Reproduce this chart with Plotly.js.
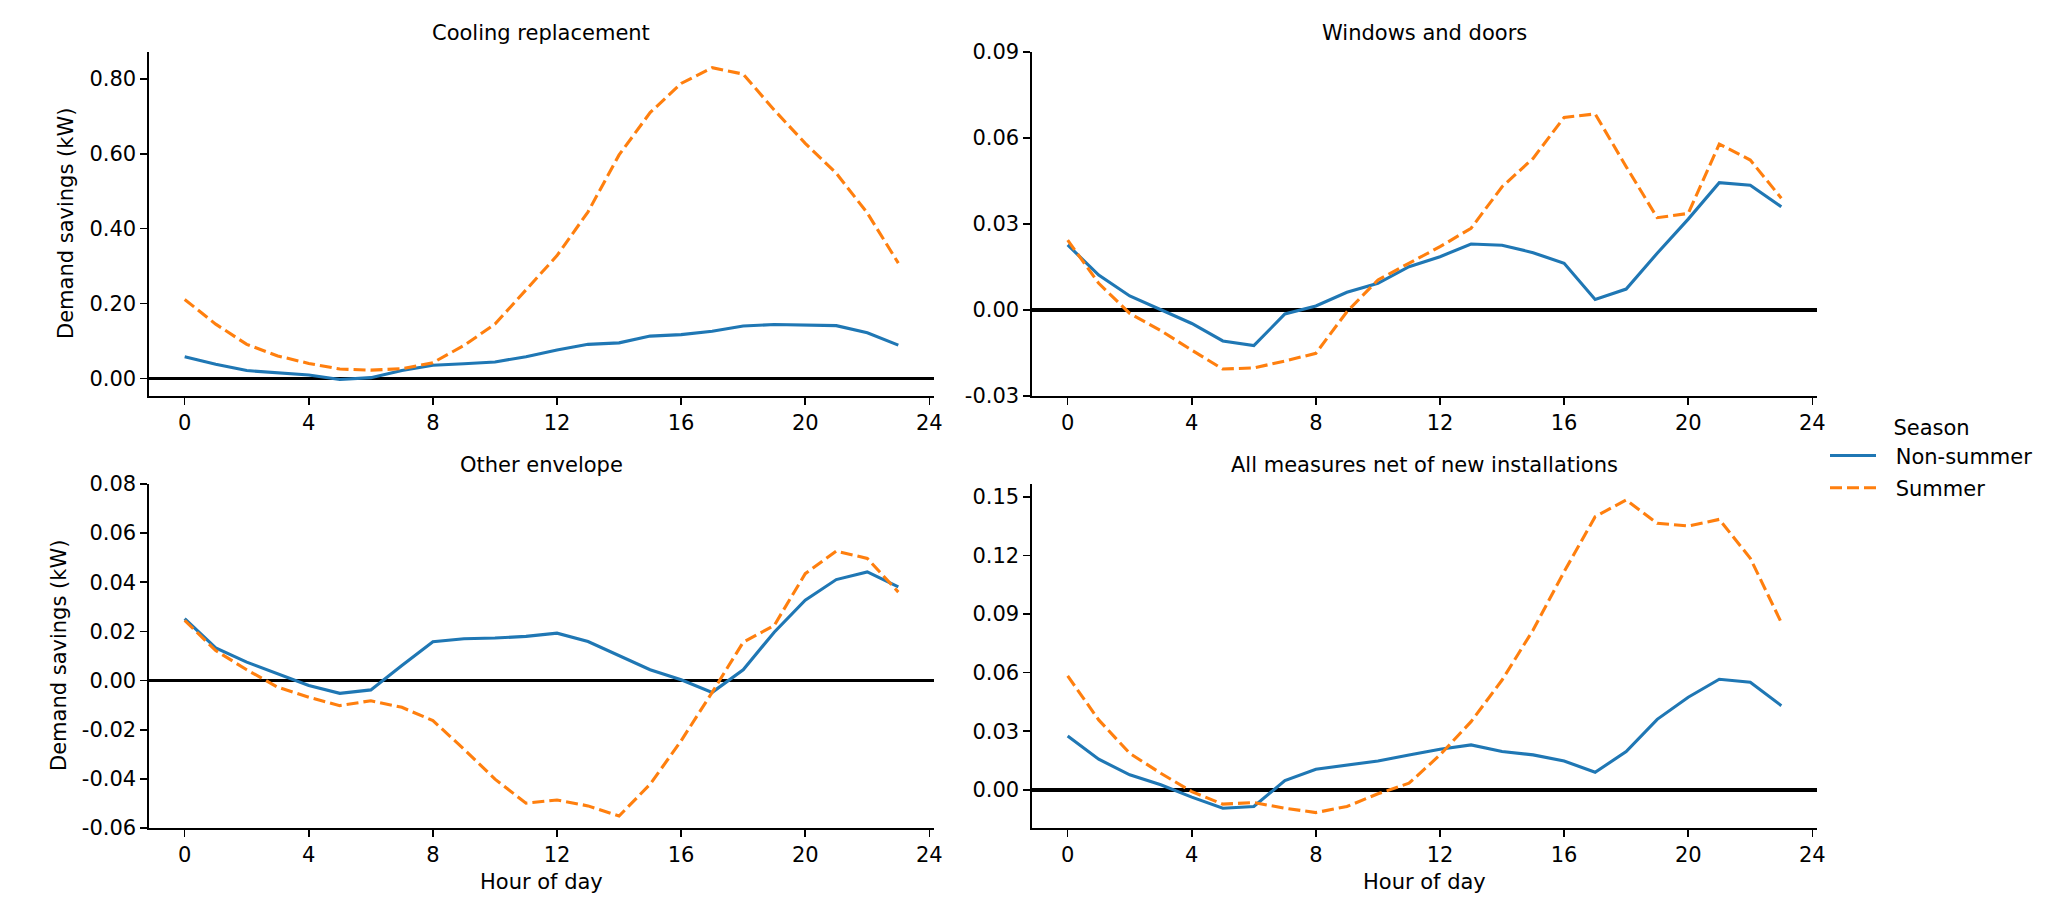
<!DOCTYPE html>
<html>
<head>
<meta charset="utf-8">
<script src="https://cdn.plot.ly/plotly-3.0.1.min.js"></script>
<style>
  html, body { margin: 0; padding: 0; background: #fff; }
  #chart { width: 2048px; height: 917px; }
</style>
</head>
<body>
<div id="chart"></div>
<script>
'use strict';

// hours 0..23
const hours = [0,1,2,3,4,5,6,7,8,9,10,11,12,13,14,15,16,17,18,19,20,21,22,23];

// Cooling replacement
const coolingNonSummer = [0.058,0.038,0.021,0.015,0.009,-0.003,0.002,0.021,0.035,0.039,0.044,0.058,0.076,0.091,0.095,0.113,0.117,0.126,0.140,0.144,0.142,0.141,0.122,0.089];
const coolingSummer    = [0.211,0.145,0.091,0.060,0.040,0.025,0.022,0.026,0.042,0.088,0.145,0.236,0.328,0.445,0.597,0.710,0.788,0.830,0.813,0.717,0.628,0.548,0.442,0.308];

// Windows and doors
const windowsNonSummer = [0.0227,0.0122,0.0049,0.0000,-0.0047,-0.0108,-0.0124,-0.0014,0.0014,0.0062,0.0093,0.0151,0.0186,0.0230,0.0226,0.0200,0.0163,0.0037,0.0073,0.0198,0.0317,0.0444,0.0435,0.0360];
const windowsSummer    = [0.0244,0.0093,-0.0012,-0.0072,-0.0140,-0.0206,-0.0202,-0.0178,-0.0151,-0.0006,0.0105,0.0163,0.0221,0.0285,0.0430,0.0529,0.0672,0.0684,0.0500,0.0322,0.0337,0.0579,0.0523,0.0390];

// Other envelope
const envelopeNonSummer = [0.0252,0.0133,0.0075,0.0027,-0.0020,-0.0052,-0.0038,0.0061,0.0158,0.0170,0.0173,0.0180,0.0193,0.0159,0.0102,0.0044,0.0003,-0.0048,0.0044,0.0197,0.0327,0.0411,0.0442,0.0381];
const envelopeSummer    = [0.0245,0.0122,0.0044,-0.0027,-0.0068,-0.0102,-0.0082,-0.0109,-0.0163,-0.0279,-0.0401,-0.0499,-0.0486,-0.0510,-0.0551,-0.0422,-0.0245,-0.0048,0.0156,0.0224,0.0435,0.0527,0.0497,0.0360];

// All measures net of new installations
const allNonSummer = [0.0276,0.0157,0.0077,0.0026,-0.0037,-0.0094,-0.0085,0.0048,0.0106,0.0128,0.0148,0.0179,0.0208,0.0230,0.0196,0.0179,0.0148,0.0090,0.0196,0.0361,0.0474,0.0566,0.0551,0.0431];
const allSummer    = [0.0583,0.0358,0.0187,0.0085,-0.0009,-0.0073,-0.0065,-0.0094,-0.0116,-0.0085,-0.0020,0.0034,0.0179,0.0349,0.0562,0.0818,0.1116,0.1398,0.1483,0.1364,0.1350,0.1384,0.1185,0.0856];

const panelTitles = ['Cooling replacement', 'Windows and doors', 'Other envelope', 'All measures net of new installations'];
const seasonNames = ['Non-summer', 'Summer'];
const xTicks = [0,4,8,12,16,20,24];
const coolingTicks  = [0.00,0.20,0.40,0.60,0.80];
const windowsTicks  = [-0.03,0.00,0.03,0.06,0.09];
const envelopeTicks = [-0.06,-0.04,-0.02,0.00,0.02,0.04,0.06,0.08];
const allTicks      = [0.00,0.03,0.06,0.09,0.12,0.15];

const W = 2048, H = 917;
const FONT = 'DejaVu Sans';
const FS = 21;
const BLUE = '#1f77b4', ORANGE = '#ff7f0e';
// extra gap between legend line and its label (en space + thin space)
const LEG_PAD = '\u2002\u2009';

const series = [
    [coolingNonSummer, coolingSummer],
    [windowsNonSummer, windowsSummer],
    [envelopeNonSummer, envelopeSummer],
    [allNonSummer, allSummer]
];

let traces = [];
series.forEach(function (pair, i) {
    let ax = i === 0 ? '' : String(i + 1);
    traces.push({
        x: hours, y: pair[0], type: 'scatter', mode: 'lines',
        name: LEG_PAD + seasonNames[0], legendgroup: 'ns', showlegend: i === 0,
        line: {color: BLUE, width: 3.1},
        xaxis: 'x' + ax, yaxis: 'y' + ax, hoverinfo: 'skip'
    });
    traces.push({
        x: hours, y: pair[1], type: 'scatter', mode: 'lines',
        name: LEG_PAD + seasonNames[1], legendgroup: 's', showlegend: i === 0,
        line: {color: ORANGE, width: 3.1, dash: '12px,5px'},
        xaxis: 'x' + ax, yaxis: 'y' + ax, hoverinfo: 'skip'
    });
});

// axes boxes in px (left, right, top, bottom)
const colX = [[149, 934], [1032, 1817]];
const rowY = [[52, 396], [484, 828]];

function xAxis(col, anchor) {
    return {
        domain: [colX[col][0] / W, colX[col][1] / W],
        range: [-1.15, 24.15],
        anchor: anchor,
        tickvals: xTicks,
        ticktext: xTicks.map(String),
        ticks: 'outside', ticklen: 7, tickwidth: 1.6, tickcolor: '#000',
        showline: true, linecolor: '#000', linewidth: 1.6,
        showgrid: false, zeroline: false,
        tickfont: {family: FONT, size: FS, color: '#000'}
    };
}

function yAxis(row, anchor, range, ticks, dec) {
    return {
        domain: [1 - rowY[row][1] / H, 1 - rowY[row][0] / H],
        range: range,
        anchor: anchor,
        tickvals: ticks,
        ticktext: ticks.map(function (v) { return v.toFixed(dec); }),
        ticks: 'outside', ticklen: 7, tickwidth: 1.6, tickcolor: '#000',
        showline: true, linecolor: '#000', linewidth: 1.6,
        showgrid: false,
        zeroline: true, zerolinecolor: '#000', zerolinewidth: 3.3,
        tickfont: {family: FONT, size: FS, color: '#000'}
    };
}

function label(text, x, y, angle) {
    return {
        text: text, xref: 'paper', yref: 'paper',
        x: x / W, y: 1 - y / H, xanchor: 'center', yanchor: 'middle',
        showarrow: false, textangle: angle || 0,
        font: {family: FONT, size: FS, color: '#000'}
    };
}

let layout = {
    width: W, height: H,
    margin: {l: 0, r: 0, t: 0, b: 0},
    paper_bgcolor: '#fff', plot_bgcolor: '#fff',
    font: {family: FONT, size: FS, color: '#000'},
    showlegend: true,
    legend: {
        x: 1825 / W, y: 1 - 408 / H, xanchor: 'left', yanchor: 'top',
        bgcolor: 'rgba(0,0,0,0)', borderwidth: 0, tracegroupgap: 2,
        font: {family: FONT, size: FS, color: '#000'},
        title: {text: 'Season', side: 'top center', font: {family: FONT, size: FS, color: '#000'}},
        itemwidth: 46
    },
    xaxis:  xAxis(0, 'y'),
    yaxis:  yAxis(0, 'x', [-0.047, 0.872], coolingTicks, 2),
    xaxis2: xAxis(1, 'y2'),
    yaxis2: yAxis(0, 'x2', [-0.03, 0.09], windowsTicks, 2),
    xaxis3: xAxis(0, 'y3'),
    yaxis3: yAxis(1, 'x3', [-0.06, 0.08], envelopeTicks, 2),
    xaxis4: xAxis(1, 'y4'),
    yaxis4: yAxis(1, 'x4', [-0.0195, 0.1565], allTicks, 2),
    annotations: [
        label(panelTitles[0], 541, 33),
        label(panelTitles[1], 1424, 33),
        label(panelTitles[2], 541, 465),
        label(panelTitles[3], 1424, 465),
        label('Demand savings (kW)', 66, 224, -90),
        label('Demand savings (kW)', 59, 656, -90),
        label('Hour of day', 541, 882),
        label('Hour of day', 1424, 882)
    ]
};

Plotly.newPlot('chart', traces, layout, {staticPlot: true, displayModeBar: false});
</script>
</body>
</html>
